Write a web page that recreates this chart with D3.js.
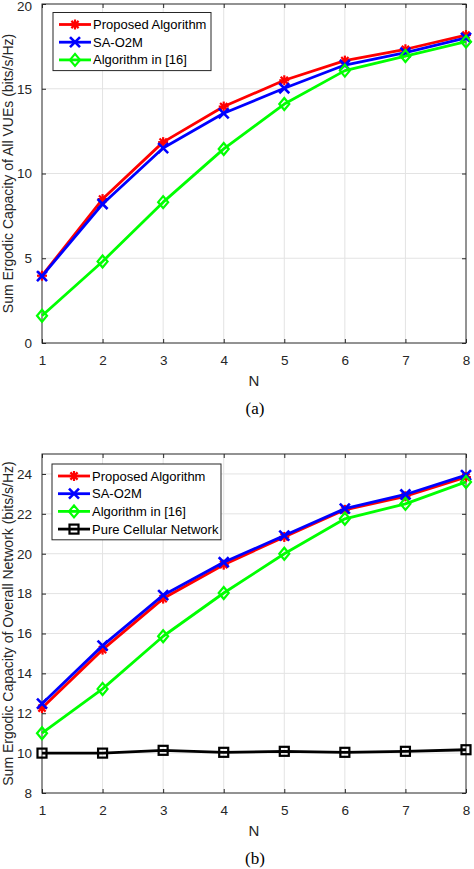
<!DOCTYPE html>
<html>
<head>
<meta charset="utf-8">
<script src="https://cdn.jsdelivr.net/npm/d3@7"></script>
<style>
  html, body { margin: 0; padding: 0; background: #fff; }
  svg { display: block; }
  text { font-family: "Liberation Sans", Arial, sans-serif; }
</style>
</head>
<body>
<svg id="chart" width="474" height="869"></svg>
<script>
// x values shared by both panels
const nValues = [1, 2, 3, 4, 5, 6, 7, 8];

// panel (a): sum ergodic capacity of all VUEs
const proposedA = [3.97, 8.49, 11.85, 13.95, 15.5, 16.66, 17.33, 18.17];
const saO2mA    = [3.95, 8.2, 11.5, 13.55, 15.03, 16.4, 17.13, 18.0];
const alg16A    = [1.61, 4.81, 8.31, 11.45, 14.1, 16.07, 16.93, 17.78];
const yTicksA   = [0, 5, 10, 15, 20];

// panel (b): sum ergodic capacity of overall network
const proposedB = [12.26, 15.19, 17.75, 19.45, 20.84, 22.2, 22.88, 23.84];
const saO2mB    = [12.48, 15.39, 17.92, 19.57, 20.91, 22.26, 22.97, 23.94];
const alg16B    = [11.0, 13.22, 15.86, 18.03, 20.0, 21.75, 22.5, 23.6];
const pureB     = [10.0, 10.0, 10.14, 10.04, 10.09, 10.04, 10.09, 10.17];
const yTicksB   = [8, 10, 12, 14, 16, 18, 20, 22, 24];

const seriesStyle = {
  "Proposed Algorithm": { color: "#ff0000", marker: "star" },
  "SA-O2M": { color: "#0000ff", marker: "x" },
  "Algorithm in [16]": { color: "#00ff00", marker: "diamond" },
  "Pure Cellular Network": { color: "#000000", marker: "square" }
};

const svg = d3.select("#chart");

function drawMarker(g, type, x, y, color) {
  const s = 5;
  if (type === "star") {
    // MATLAB '*' : plus + x
    const p = [[-s, 0, s, 0], [0, -s, 0, s], [-s * 0.72, -s * 0.72, s * 0.72, s * 0.72], [-s * 0.72, s * 0.72, s * 0.72, -s * 0.72]];
    p.forEach(l => g.append("line")
      .attr("x1", x + l[0]).attr("y1", y + l[1]).attr("x2", x + l[2]).attr("y2", y + l[3])
      .attr("stroke", color).attr("stroke-width", 2.2));
  } else if (type === "x") {
    const p = [[-s, -s, s, s], [-s, s, s, -s]];
    p.forEach(l => g.append("line")
      .attr("x1", x + l[0]).attr("y1", y + l[1]).attr("x2", x + l[2]).attr("y2", y + l[3])
      .attr("stroke", color).attr("stroke-width", 2.6));
  } else if (type === "diamond") {
    g.append("path")
      .attr("d", `M${x},${y - 6}L${x + 5},${y}L${x},${y + 6}L${x - 5},${y}Z`)
      .attr("fill", "none").attr("stroke", color).attr("stroke-width", 2.2);
  } else if (type === "square") {
    g.append("rect")
      .attr("x", x - 4.5).attr("y", y - 4.5).attr("width", 9).attr("height", 9)
      .attr("fill", "none").attr("stroke", color).attr("stroke-width", 2.2);
  }
}

function drawPanel(opt) {
  const g = svg.append("g");
  const x = d3.scaleLinear().domain([1, 8]).range([opt.left, opt.right]);
  const y = d3.scaleLinear().domain(opt.yDomain).range([opt.bottom, opt.top]);

  // grid
  g.selectAll(".gx").data(nValues.slice(1, -1)).enter().append("line")
    .attr("x1", d => x(d)).attr("x2", d => x(d))
    .attr("y1", opt.top).attr("y2", opt.bottom)
    .attr("stroke", "#e3e3e3").attr("stroke-width", 1);
  g.selectAll(".gy").data(opt.yTicks.filter(d => d > opt.yDomain[0] && d < opt.yDomain[1])).enter().append("line")
    .attr("x1", opt.left).attr("x2", opt.right)
    .attr("y1", d => y(d)).attr("y2", d => y(d))
    .attr("stroke", "#e3e3e3").attr("stroke-width", 1);

  // axes, MATLAB style ticks inside
  const fmt = d3.format("d");
  const xAxis = d3.axisBottom(x).tickValues(nValues).tickFormat(fmt).tickSizeInner(-4).tickSizeOuter(0).tickPadding(12);
  const yAxis = d3.axisLeft(y).tickValues(opt.yTicks).tickFormat(fmt).tickSizeInner(-4).tickSizeOuter(0).tickPadding(10);
  const xa = g.append("g").attr("transform", `translate(0,${opt.bottom})`).call(xAxis);
  const ya = g.append("g").attr("transform", `translate(${opt.left},0)`).call(yAxis);
  const xt = g.append("g").attr("transform", `translate(0,${opt.top})`).call(d3.axisTop(x).tickValues(nValues).tickSizeInner(-4).tickSizeOuter(0).tickFormat(""));
  const yr = g.append("g").attr("transform", `translate(${opt.right},0)`).call(d3.axisRight(y).tickValues(opt.yTicks).tickSizeInner(-4).tickSizeOuter(0).tickFormat(""));
  [xa, ya, xt, yr].forEach(a => {
    a.select(".domain").remove();
    a.selectAll("line").attr("stroke", "#262626");
    a.selectAll("text").attr("font-size", 13.5).attr("fill", "#262626")
      .style("font-family", "'Liberation Sans', Arial, sans-serif");
  });
  // keep a tick label at the very top of the page inside the window
  ya.selectAll(".tick text").filter(d => y(d) < 8).attr("dy", "0.5em");
  g.append("rect")
    .attr("x", opt.left).attr("y", opt.top)
    .attr("width", opt.right - opt.left).attr("height", opt.bottom - opt.top)
    .attr("fill", "none").attr("stroke", "#262626").attr("stroke-width", 1);

  // lines + markers
  const line = d3.line().x((d, i) => x(nValues[i])).y(d => y(d));
  opt.series.forEach(s => {
    const st = seriesStyle[s.name];
    g.append("path").datum(s.values)
      .attr("d", line).attr("fill", "none")
      .attr("stroke", st.color).attr("stroke-width", 2.8).attr("stroke-linejoin", "round");
    s.values.forEach((v, i) => drawMarker(g, st.marker, x(nValues[i]), y(v), st.color));
  });

  // legend
  const rowH = 17.7;
  const lg = g.append("g");
  lg.append("rect")
    .attr("x", opt.legend.x).attr("y", opt.legend.y)
    .attr("width", opt.legend.w).attr("height", rowH * opt.series.length + 5)
    .attr("fill", "#fff").attr("stroke", "#262626").attr("stroke-width", 1);
  opt.series.forEach((s, i) => {
    const st = seriesStyle[s.name];
    const cy = opt.legend.y + 12 + i * rowH;
    const lx = opt.legend.x + 6;
    lg.append("line").attr("x1", lx).attr("x2", lx + 32).attr("y1", cy).attr("y2", cy)
      .attr("stroke", st.color).attr("stroke-width", 2.8);
    drawMarker(lg, st.marker, lx + 16, cy, st.color);
    lg.append("text").attr("x", lx + 34).attr("y", cy).attr("dy", "0.35em")
      .attr("font-size", 13).attr("fill", "#000").text(s.name);
  });

  // labels
  g.append("text")
    .attr("x", (opt.left + opt.right) / 2).attr("y", opt.bottom + 43)
    .attr("text-anchor", "middle").attr("font-size", 15).attr("fill", "#262626").text("N");
  g.append("text")
    .attr("transform", `translate(13,${(opt.top + opt.bottom) / 2}) rotate(-90)`)
    .attr("text-anchor", "middle").attr("font-size", 14).attr("fill", "#262626").text(opt.yLabel);
  g.append("text")
    .attr("x", 255).attr("y", opt.captionY)
    .attr("text-anchor", "middle").attr("font-size", 17)
    .style("font-family", "'Liberation Serif', 'Times New Roman', serif")
    .attr("fill", "#000").text(opt.caption);
}

drawPanel({
  left: 42, right: 466, top: 4, bottom: 343,
  yDomain: [0, 20], yTicks: yTicksA,
  yLabel: "Sum Ergodic Capacity of All VUEs (bits/s/Hz)",
  caption: "(a)", captionY: 414,
  legend: { x: 53, y: 12.5, w: 158 },
  series: [
    { name: "Proposed Algorithm", values: proposedA },
    { name: "SA-O2M", values: saO2mA },
    { name: "Algorithm in [16]", values: alg16A }
  ]
});

drawPanel({
  left: 42, right: 466, top: 454, bottom: 793,
  yDomain: [8, 25], yTicks: yTicksB,
  yLabel: "Sum Ergodic Capacity of Overall Network (bits/s/Hz)",
  caption: "(b)", captionY: 864,
  legend: { x: 52, y: 464, w: 169 },
  series: [
    { name: "Proposed Algorithm", values: proposedB },
    { name: "SA-O2M", values: saO2mB },
    { name: "Algorithm in [16]", values: alg16B },
    { name: "Pure Cellular Network", values: pureB }
  ]
});
</script>
</body>
</html>
